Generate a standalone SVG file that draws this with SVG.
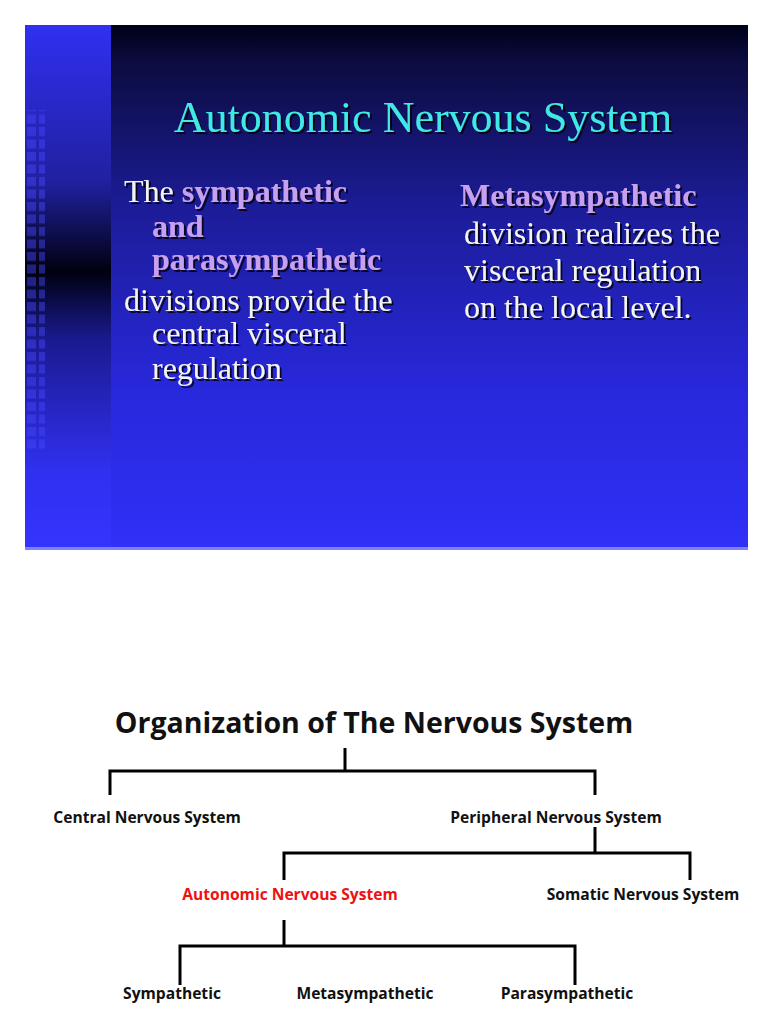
<svg xmlns="http://www.w3.org/2000/svg" width="768" height="1024" viewBox="0 0 768 1024">
<defs>
<linearGradient id="main" x1="0" y1="0" x2="0" y2="1">
<stop offset="0" stop-color="#000018"/><stop offset="0.07" stop-color="#0c0c40"/><stop offset="0.35" stop-color="#1c1c98"/><stop offset="0.7" stop-color="#2828dc"/><stop offset="1" stop-color="#3030f8"/>
</linearGradient>
<linearGradient id="strip" x1="0" y1="0" x2="0" y2="1">
<stop offset="0" stop-color="#3030f0"/><stop offset="0.3" stop-color="#2020a0"/><stop offset="0.47" stop-color="#000010"/><stop offset="0.6" stop-color="#1a1a90"/><stop offset="0.85" stop-color="#3030f0"/><stop offset="1" stop-color="#3434ff"/>
</linearGradient>
<pattern id="sq" x="0" y="0" width="12" height="12.5" patternUnits="userSpaceOnUse"><rect x="3" y="2" width="9" height="9" fill="#4848ff" opacity="0.45"/></pattern>
<filter id="sh"><feDropShadow dx="2" dy="2" stdDeviation="0.5" flood-color="#000" flood-opacity="0.8"/></filter>
<style>
.s{font-family:"Liberation Serif",serif;font-size:32px;fill:#f4f4f4;filter:url(#sh)}
.p{fill:#c8a0f0;font-weight:bold}
.c{font-family:"Open Sans","Liberation Sans",sans-serif;font-size:15.6px;font-weight:bold;fill:#111}
.l{stroke:#000;stroke-width:3;fill:none}
</style>
</defs>
<rect width="768" height="1024" fill="#fff"/>
<g id="slide">
<rect x="25" y="25" width="723" height="524" fill="url(#main)"/>
<rect x="25" y="25" width="86" height="524" fill="url(#strip)"/>
<rect x="27" y="110" width="18" height="340" fill="url(#sq)"/>
<rect x="25" y="547" width="723" height="3" fill="#8080ff"/>
<text x="423" y="132" text-anchor="middle" font-family="Liberation Serif,serif" font-size="44" fill="#40e8e8" filter="url(#sh)">Autonomic Nervous System</text>
<text class="s" x="124" y="202">The <tspan class="p">sympathetic</tspan></text>
<text class="s p" x="152" y="237">and</text>
<text class="s p" x="152" y="270">parasympathetic</text>
<text class="s" x="124" y="311">divisions provide the</text>
<text class="s" x="152" y="344">central visceral</text>
<text class="s" x="152" y="379">regulation</text>
<text class="s p" x="460" y="206">Metasympathetic</text>
<text class="s" x="464" y="244">division realizes the</text>
<text class="s" x="464" y="281">visceral regulation</text>
<text class="s" x="464" y="318">on the local level.</text>
</g>
<g id="title"><text x="374" y="733" text-anchor="middle" font-family="Open Sans,Liberation Sans,sans-serif" font-size="28.5" font-weight="bold" fill="#111">Organization of The Nervous System</text></g>
<g id="connectors">
<path class="l" d="M345 748V771M110 795V771H595V795M595 827V853M284 880V853H690V880M284 920V946M180 985V946H575V985"/>
</g>
<g id="cns"><text class="c" x="147" y="823" text-anchor="middle">Central Nervous System</text></g>
<g id="pns"><text class="c" x="556" y="823" text-anchor="middle">Peripheral Nervous System</text></g>
<g id="ans"><text class="c" x="290" y="900" text-anchor="middle" style="fill:#ee1111">Autonomic Nervous System</text></g>
<g id="sns"><text class="c" x="643" y="900" text-anchor="middle">Somatic Nervous System</text></g>
<g id="sym"><text class="c" x="172" y="999" text-anchor="middle">Sympathetic</text></g>
<g id="meta"><text class="c" x="365" y="999" text-anchor="middle">Metasympathetic</text></g>
<g id="para"><text class="c" x="567" y="999" text-anchor="middle">Parasympathetic</text></g>
</svg>
